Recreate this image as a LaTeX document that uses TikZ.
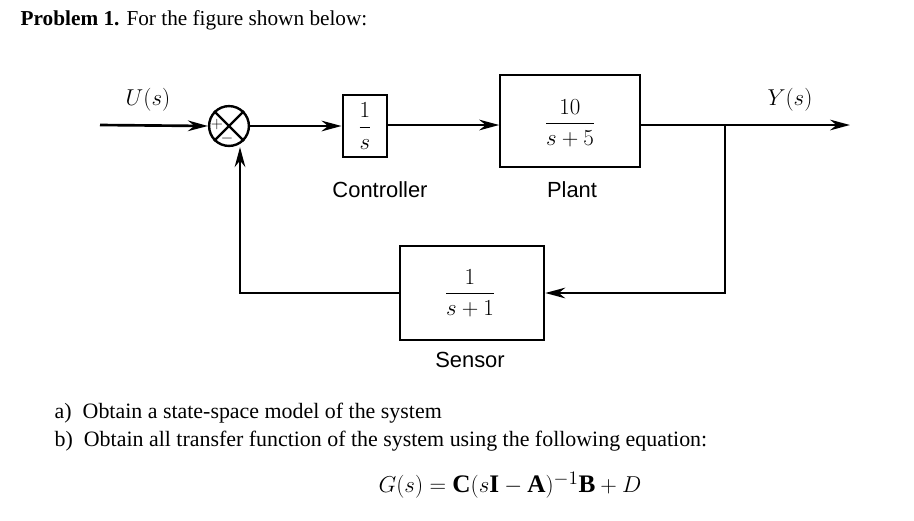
\documentclass[tikz,border=0pt]{standalone}
\usepackage{amsmath}
\usepackage{fontspec}
\setmainfont{Liberation Serif}
\newfontfamily\sff{Liberation Sans}
\usetikzlibrary{arrows.meta}
\begin{document}
\begin{tikzpicture}[x=0.0264583cm,y=-0.0264583cm,
  ln/.style={line width=2pt},
  ar/.style={ln,-{Stealth[length=15pt,width=8pt]}},
  blk/.style={draw,line width=1.6pt,inner sep=0pt},
  lab/.style={font=\sff\fontsize{16.5}{18}\selectfont},
  tf/.style={font=\fontsize{16}{18}\selectfont}]
\useasboundingbox (0,0) rectangle (914,520);
\node[anchor=west,font=\fontsize{16}{18}\selectfont] (title) at (16,20) {\textbf{Problem 1.} For the figure shown below:};
\node[tf] (u) at (148,100) {$U(s)$};
\node[tf] (y) at (790,100) {$Y(s)$};
\coordinate (in) at (100,125);
\node[draw,circle,line width=1.8pt,minimum size=40pt*0.75,inner sep=0pt] (sum) at (229,126) {};
\draw[line width=1.8pt] (sum.north west)--(sum.south east) (sum.north east)--(sum.south west);
\node[font=\fontsize{13}{14}\selectfont] (plus) at (217,125) {$+$};
\node[font=\fontsize{13}{14}\selectfont] (minus) at (227,139) {$-$};
\node[blk,minimum width=45pt*0.75,minimum height=62pt*0.75] (ctl) at (365,126) {};
\node[tf] (ctf) at (365,126) {$\dfrac{1}{s}$};
\node[lab] (cl) at (380,190) {Controller};
\node[blk,minimum width=140pt*0.75,minimum height=92pt*0.75] (pl) at (570,121) {};
\node[tf] (ptf) at (570,123) {$\dfrac{10}{s+5}$};
\node[lab] (plab) at (572,190) {Plant};
\node[blk,minimum width=145pt*0.75,minimum height=95pt*0.75] (sen) at (472,293) {};
\node[tf] (stf) at (470,293) {$\dfrac{1}{s+1}$};
\node[lab] (slab) at (470,360) {Sensor};
\coordinate (out) at (850,125);
\coordinate (br) at (725,125);
\coordinate (br2) at (725,293);
\coordinate (bl) at (240,293);
\draw[ar] (in) -- (sum.west);
\draw[ar] (sum.east) -- (ctl.west|-sum.east);
\draw[ar] (ctl.east|-out) -- (pl.west|-out);
\draw[ar] (pl.east|-out) -- (out);
\draw[ar] (br) -- (br2) -- (sen.east);
\draw[ar] (sen.west) -- (bl) -- (bl|-sum.south);
\node[anchor=west,font=\fontsize{16.5}{18}\selectfont] (qa) at (50,413) {a)\enspace Obtain a state-space model of the system};
\node[anchor=west,font=\fontsize{16.5}{18}\selectfont] (qb) at (50,441) {b)\enspace Obtain all transfer function of the system using the following equation:};
\node[font=\fontsize{19}{21}\selectfont] (eq) at (510,485) {$G(s)=\mathbf{C}(s\mathbf{I}-\mathbf{A})^{-1}\mathbf{B}+D$};
\end{tikzpicture}
\end{document}
